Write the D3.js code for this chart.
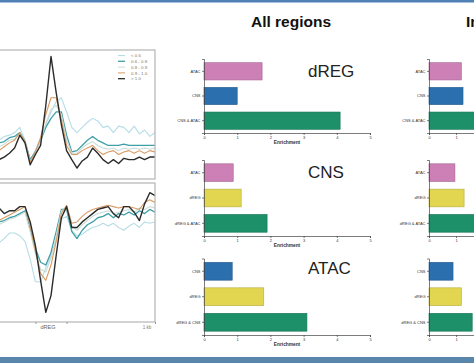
<!DOCTYPE html>
<html><head><meta charset="utf-8">
<script src="https://cdn.jsdelivr.net/npm/d3@7"></script>
<style>
html,body{margin:0;padding:0;background:#fff;overflow:hidden}
svg{display:block;font-family:"Liberation Sans",Arial,sans-serif}
</style></head>
<body><svg id="c" width="474" height="363"></svg>
<script>
// ---- Profile plot data (position in bp relative to dREG site) ----
const positions = [-500,-450,-400,-350,-300,-250,-200,-150,-100,-50,0,50,100,150,200,250,300,350,400,450,500,550,600,650,700,750,800,850,900,950,1000];
const legendLabels = ["< 0.6","0.6 - 0.8","0.8 - 0.9","0.9 - 1.0","> 1.0"];
const seriesColors = ["#b5dde6","#3f9fa6","#c9dcd8","#d99a62","#2b2b2b"];
// upper panel (signal, arbitrary units)
const topLt06  = [3.0,3.3,3.4,3.6,4.0,3.0,1.5,2.2,3.2,4.2,5.2,6.0,6.3,5.2,4.0,3.6,4.0,4.4,4.7,4.5,4.0,4.1,3.6,4.1,4.0,3.6,4.1,3.5,3.8,3.3,3.6];
const top0608  = [2.8,2.9,3.2,3.3,3.6,2.9,1.5,2.1,3.0,4.0,4.7,5.2,5.2,3.4,2.1,2.2,2.6,3.0,3.3,3.0,2.8,2.6,2.6,2.6,2.7,2.6,2.6,2.6,2.6,2.6,2.6];
const top0809  = [2.5,2.7,3.0,3.1,3.5,2.8,1.4,2.0,3.0,4.3,5.4,5.7,5.0,3.0,2.0,2.0,2.4,2.7,2.9,2.6,2.4,2.3,2.4,2.2,2.4,2.3,2.4,2.3,2.4,2.3,2.4];
const top0910  = [2.2,2.5,2.8,3.0,3.6,2.9,1.3,2.1,3.2,5.0,6.3,6.3,4.6,2.6,1.9,1.9,2.2,2.4,2.6,2.2,1.9,2.1,2.2,1.9,2.1,2.2,2.0,2.2,2.0,2.2,2.1];
const topGt10  = [1.5,1.7,2.0,2.4,3.4,2.8,1.1,1.9,2.6,5.7,9.5,6.7,4.2,2.2,1.5,0.85,1.4,1.7,2.4,2.0,1.5,1.2,1.5,1.2,1.6,1.5,1.5,1.7,1.5,1.7,1.7];
// lower panel (signal, arbitrary units)
const botLt06  = [5.7,6.0,6.4,6.4,6.2,5.8,4.5,2.9,2.9,3.9,4.8,5.9,7.4,7.6,6.6,6.2,6.3,6.6,6.8,6.9,7.1,6.9,7.1,6.8,6.6,6.9,7.1,6.8,7.2,7.1,7.2];
const bot0608  = [7.2,7.3,7.5,7.6,7.8,8.0,6.7,5.3,4.3,4.1,5.0,6.5,8.1,8.1,6.5,6.0,6.6,7.0,7.2,7.5,7.6,7.8,7.5,7.8,7.7,7.9,7.7,8.0,7.8,8.1,7.9];
const bot0809  = [7.0,7.2,7.4,7.5,7.7,7.9,6.5,4.9,3.8,3.6,4.6,6.2,8.0,8.2,6.9,6.6,7.0,7.3,7.6,7.8,7.9,8.0,7.8,7.9,8.0,8.1,7.9,8.2,8.1,8.3,8.2];
const bot0910  = [7.3,7.5,7.7,7.9,8.1,8.3,6.9,5.1,3.5,3.0,4.1,5.8,7.8,8.4,7.1,7.2,7.6,7.9,8.1,8.2,8.3,8.4,8.3,8.2,8.3,8.3,8.2,8.1,8.6,8.8,8.6];
const botGt10  = [8.2,7.8,8.0,8.0,8.3,8.3,7.2,5.5,3.0,0.7,1.9,4.8,7.5,8.3,6.8,6.8,7.2,7.5,7.8,8.1,8.2,8.3,7.8,7.5,8.3,8.3,7.9,7.3,8.5,9.3,9.1];
const profileTicks = [-150,150,1000];

// ---- Enrichment bar data ----
const dregCats = ["ATAC","CNS","CNS & ATAC"];
const cnsCats  = ["ATAC","dREG","dREG & ATAC"];
const atacCats = ["CNS","dREG","dREG & CNS"];
const allDregVals = [1.75,1.0,4.1];
const allCnsVals  = [0.88,1.12,1.9];
const allAtacVals = [0.85,1.8,3.1];
const interDregVals = [1.2,1.26,3.0];
const interCnsVals  = [0.96,1.3,2.5];
const interAtacVals = [0.89,1.2,1.6];
const allTicks = [0,1,2,3,4,5];
const interTicks = [0,1];   // ticks visible inside the crop
const catColors = {"ATAC":"#cc80b5","CNS":"#2c6fae","dREG":"#e2d550"};
const comboColor = "#1d8f69";

const svg = d3.select("#c");

// frame bands
svg.append("rect").attr("x",0).attr("y",0).attr("width",474).attr("height",2.5).attr("fill","#4f80b6");
svg.append("rect").attr("x",0).attr("y",357).attr("width",474).attr("height",6).attr("fill","#5b86ab");

// ---- profile plots ----
const x = d3.scaleLinear().domain([0,1000]).range([51,155]);
const yTop = d3.scaleLinear().domain([0,10]).range([179,50]);
const yBot = d3.scaleLinear().domain([0,10]).range([322,183]);
const topSeries = [topLt06,top0608,top0809,top0910,topGt10];
const botSeries = [botLt06,bot0608,bot0809,bot0910,botGt10];

function panel(series, y, top, bottom){
  const g = svg.append("g");
  const clipId = "clip"+top;
  svg.append("clipPath").attr("id",clipId).append("rect")
    .attr("x",-5).attr("y",top).attr("width",160).attr("height",bottom-top);
  const line = d3.line().x((d,i)=>x(positions[i])).y(d=>y(d));
  series.forEach((s,k)=>{
    g.append("path").datum(s).attr("d",line).attr("fill","none")
      .attr("clip-path","url(#"+clipId+")")
      .attr("stroke",seriesColors[k]).attr("stroke-width",k===4?1.4:(k===1?1.3:1.1))
      .attr("stroke-linejoin","round");
  });
  g.append("rect").attr("x",-2).attr("y",top).attr("width",157).attr("height",bottom-top)
    .attr("fill","none").attr("stroke","#b4b4b4").attr("stroke-width",1.2);
}
panel(topSeries,yTop,50,179);
panel(botSeries,yBot,183,322);

// x axis of profile
const xAxis = d3.axisBottom(x).tickValues(profileTicks).tickSize(2).tickFormat("");
const xa = svg.append("g").attr("transform","translate(0,322)").call(xAxis);
xa.select(".domain").remove();
xa.selectAll("line").attr("stroke","#999");
svg.append("text").attr("x",x(0)-3).attr("y",329).attr("text-anchor","middle")
  .attr("font-size",5.5).attr("fill","#666").text("dREG");
svg.append("text").attr("x",x(1000)-8).attr("y",329).attr("text-anchor","middle")
  .attr("font-size",4.5).attr("fill","#777").text("1 kb");

// legend
const lg = svg.append("g");
legendLabels.forEach((t,i)=>{
  const yy = 55.5 + i*5.8;
  lg.append("line").attr("x1",118).attr("x2",125).attr("y1",yy).attr("y2",yy)
    .attr("stroke",seriesColors[i]).attr("stroke-width",i===4||i===1?1.3:1);
  lg.append("text").attr("x",131).attr("y",yy+1.6).attr("font-size",4.4)
    .attr("fill","#777").text(t);
});

// ---- bar panels ----
function barPanel(cats, vals, xScale, ticks, y0, y1, showLabel){
  const yb = d3.scaleBand().domain(cats).range([y0,y1]).paddingInner(0.3).paddingOuter(0.15);
  const g = svg.append("g");
  g.selectAll("rect").data(cats).join("rect")
    .attr("x",xScale(0)).attr("y",d=>yb(d)).attr("height",yb.bandwidth())
    .attr("width",(d,i)=>xScale(vals[i])-xScale(0))
    .attr("fill",d=>catColors[d]||comboColor)
    .attr("stroke",d=>d3.color(catColors[d]||comboColor).darker(0.6)).attr("stroke-width",0.6);
  const ax = g.append("g").attr("transform",`translate(0,${y1})`)
    .call(d3.axisBottom(xScale).tickValues(ticks).tickSize(2).tickPadding(1.5).tickFormat(d3.format("d")));
  ax.selectAll("text").attr("font-size",4).attr("fill","#333");
  ax.selectAll("line,path").attr("stroke","#444").attr("stroke-width",0.7);
  const ay = g.append("g").attr("transform",`translate(${xScale(0)},0)`)
    .call(d3.axisLeft(yb).tickSize(2).tickPadding(1.5));
  ay.selectAll("text").attr("font-size",4).attr("fill","#333");
  ay.selectAll("line,path").attr("stroke","#444").attr("stroke-width",0.7);
  if(showLabel){
    g.append("text").attr("x",(xScale(0)+xScale(5))/2).attr("y",y1+11)
      .attr("text-anchor","middle").attr("font-size",4.8).attr("font-weight","bold")
      .attr("fill","#333").text("Enrichment");
  }
}
const xAll = d3.scaleLinear().domain([0,5]).range([204,370]);
const xInter = d3.scaleLinear().domain([0,6]).range([429,591]);
const rows = [[59,133],[160,236],[258.5,335]];
barPanel(dregCats,allDregVals,xAll,allTicks,rows[0][0],rows[0][1],true);
barPanel(cnsCats,allCnsVals,xAll,allTicks,rows[1][0],rows[1][1],true);
barPanel(atacCats,allAtacVals,xAll,allTicks,rows[2][0],rows[2][1],true);
barPanel(dregCats,interDregVals,xInter,interTicks,rows[0][0],rows[0][1],false);
barPanel(cnsCats,interCnsVals,xInter,interTicks,rows[1][0],rows[1][1],false);
barPanel(atacCats,interAtacVals,xInter,interTicks,rows[2][0],rows[2][1],false);

// panel labels
[["dREG",77],["CNS",178],["ATAC",274]].forEach(([t,yy])=>{
  svg.append("text").attr("x",308).attr("y",yy).attr("font-size",17).attr("fill","#222").text(t);
});
// titles
svg.append("text").attr("x",291).attr("y",27).attr("text-anchor","middle")
  .attr("font-size",15.5).attr("font-weight","bold").attr("fill","#111").text("All regions");
svg.append("text").attr("x",466).attr("y",27)
  .attr("font-size",15.5).attr("font-weight","bold").attr("fill","#111").text("Intergenic regions");
</script></body></html>
